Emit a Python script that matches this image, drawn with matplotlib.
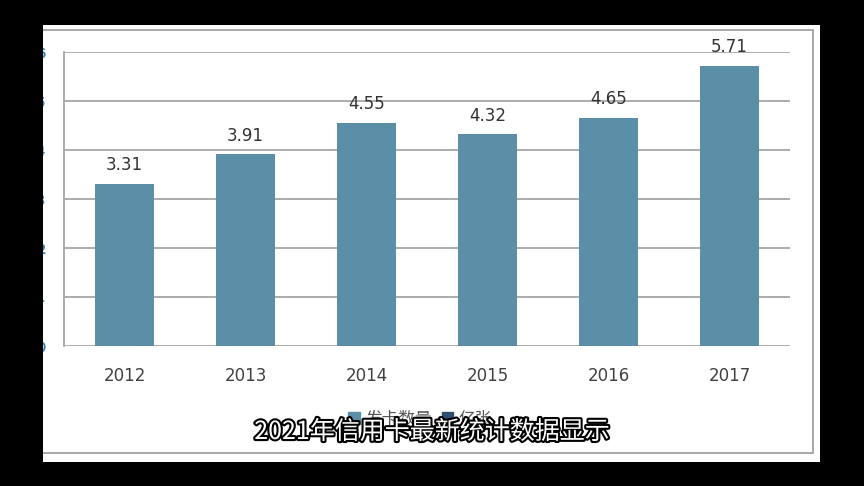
import matplotlib.pyplot as plt
import matplotlib.patheffects as pe
from matplotlib.patches import Rectangle, Patch

plt.rcParams['font.family'] = ['Noto Sans CJK SC', 'DejaVu Sans']

years = ['2012', '2013', '2014', '2015', '2016', '2017']
cards = [3.31, 3.91, 4.55, 4.32, 4.65, 5.71]
yticks = [0, 1, 2, 3, 4, 5, 6]

W, H = 864, 486
fig = plt.figure(figsize=(W / 100, H / 100), dpi=100, facecolor='black')


def px(x0, y0, x1, y1):
    # pixel box (top-left origin) -> figure fraction
    return [x0 / W, 1 - y1 / H, (x1 - x0) / W, (y1 - y0) / H]


# white screenshot panel with thin frame
b = px(43, 25, 820, 462)
fig.add_artist(Rectangle((b[0], b[1]), b[2], b[3], transform=fig.transFigure,
                         facecolor='white', edgecolor='none', zorder=-2))
f = px(40, 30, 813, 453)
fig.add_artist(Rectangle((f[0], f[1]), f[2], f[3], transform=fig.transFigure,
                         facecolor='none', edgecolor='#9a9a9a', lw=1.2, zorder=-1))

ax = fig.add_axes(px(64, 52, 790, 346))
ax.set_facecolor('none')
bars = ax.bar(range(len(years)), cards, width=0.49, color='#5b8fa7', zorder=3)
for i, v in enumerate(cards):
    ax.text(i, v + 0.2, f'{v:.2f}', ha='center', va='bottom', fontsize=12,
            color='#333333', family=['DejaVu Sans'])

ax.set_xlim(-0.5, len(years) - 0.5)
ax.set_ylim(0, 6)
ax.set_yticks(yticks)
ax.set_yticklabels([str(t) for t in yticks], color='#3a7fae', fontsize=10,
                   fontweight='bold')
ax.tick_params(axis='y', length=0, pad=13.5)
ax.set_xticks(range(len(years)))
ax.set_xticklabels(years, fontsize=12, color='#404040', family=['DejaVu Sans'])
ax.tick_params(axis='x', length=0, pad=15)
ax.grid(axis='y', color='#a6a6a6', lw=1.3, zorder=0)
for s in ['top', 'right', 'bottom']:
    ax.spines[s].set_visible(False)
ax.spines['left'].set_color('#a6a6a6')
ax.spines['left'].set_linewidth(1.3)

# legend, mostly hidden behind the subtitle
handles = [Patch(color='#5b8fa7'), Patch(color='#2f4f6f')]
fig.legend(handles, ['发卡数量', '亿张'], loc='center', ncol=2,
           bbox_to_anchor=(420 / W, 1 - 419 / H), frameon=False, fontsize=12,
           labelcolor='#555555', handlelength=0.7, handleheight=0.7,
           columnspacing=0.6, handletextpad=0.3)

# black bar covering the cut-off left edge
fig.add_artist(Rectangle((0, 0), 43 / W, 1, transform=fig.transFigure,
                         facecolor='black', edgecolor='none', zorder=10))

fig.text(432 / W, 1 - 432 / H, '2021年信用卡最新统计数据显示', ha='center',
         va='center', fontsize=18, color='white', fontweight='medium', zorder=11,
         path_effects=[pe.withStroke(linewidth=3, foreground='black')])

fig.savefig('out.png', dpi=100, facecolor='black')
